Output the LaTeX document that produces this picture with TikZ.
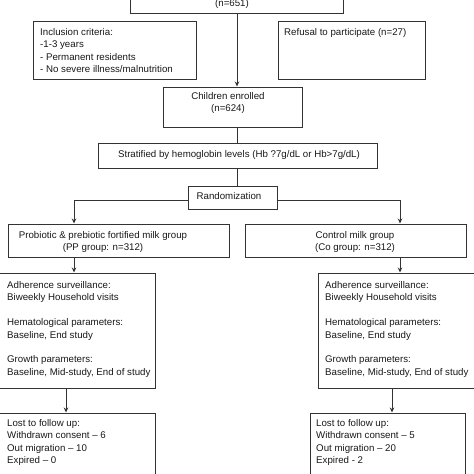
\documentclass[tikz,border=0pt]{standalone}
\usepackage{fontspec}
\setmainfont{Liberation Sans}
\usetikzlibrary{arrows.meta}
\begin{document}
\begin{tikzpicture}[x=1pt,y=-1pt,
  box/.style={draw=black!80, line width=1pt, inner sep=0pt},
  txt/.style={inner sep=0pt, font=\fontsize{9.7}{12.4}\selectfont, text=black!90},
  ltxt/.style={txt, align=left, anchor=north west},
  ctxt/.style={txt, align=center},
  conn/.style={draw=black!80, line width=1pt},
  arr/.style={conn, -{Stealth[length=5pt,width=4.5pt]}}
]
\useasboundingbox (0,0) rectangle (474,474);
\clip (0,0) rectangle (474,474);
\fill[white] (0,0) rectangle (474,474);
% boxes
\node[box, minimum width=213pt, minimum height=53pt] (top) at (236.5,-13.5) {};
\node[box, minimum width=163pt, minimum height=58pt] (incl) at (114.5,50) {};
\node[box, minimum width=147pt, minimum height=58pt] (ref) at (351.5,50) {};
\node[box, minimum width=139pt, minimum height=40pt] (enr) at (232.5,107) {};
\node[box, minimum width=279pt, minimum height=25pt] (strat) at (237.5,155.5) {};
\node[box, minimum width=89pt, minimum height=23pt] (rand) at (232.5,197.5) {};
\node[box, minimum width=221pt, minimum height=33pt] (pp) at (118.5,240.5) {};
\node[box, minimum width=221pt, minimum height=33pt] (co) at (355.5,240.5) {};
\node[box, minimum width=160pt, minimum height=115pt] (adhL) at (75,330.5) {};
\node[box, minimum width=162pt, minimum height=115pt] (adhR) at (399,330.5) {};
\node[box, minimum width=160pt, minimum height=67pt] (lostL) at (75,446.5) {};
\node[box, minimum width=155pt, minimum height=67pt] (lostR) at (387.5,446.5) {};
% columns
\coordinate (spine) at (237,0);
\coordinate (lcol) at (74,0);
\coordinate (lcolb) at (66,0);
\coordinate (rcol) at (400,0);
\coordinate (rcolb) at (392,0);
% connectors
\draw[arr] (top.south -| spine) -- (enr.north -| spine);
\draw[conn] (enr.south -| spine) -- (strat.north -| spine);
\draw[conn] (strat.south -| spine) -- (rand.north -| spine);
\draw[arr] ([yshift=-3pt]rand.west) -| (pp.north -| lcol);
\draw[arr] ([yshift=-3pt]rand.east) -| (co.north -| rcol);
\draw[arr] (pp.south -| lcol) -- (adhL.north -| lcol);
\draw[arr] (co.south -| rcol) -- (adhR.north -| rcol);
\draw[arr] (adhL.south -| lcolb) -- (lostL.north -| lcolb);
\draw[arr] (adhR.south -| rcolb) -- (lostR.north -| rcolb);
% texts
\node[ctxt] (ttop) at (232,4) {(n=651)};
\node[ltxt] (tincl) at (40,28.3) {Inclusion criteria:\\-1-3 years\\- Permanent residents\\- No severe illness/malnutrition};
\node[ltxt] (tref) at (284,28.3) {Refusal to participate (n=27)};
\node[ctxt] (tenr) at (228,103) {Children enrolled\\(n=624)};
\node[ctxt] (tstrat) at (239,155) {Stratified by hemoglobin levels (Hb ?7g/dL or Hb>7g/dL)};
\node[ctxt] (trand) at (229,196) {Randomization};
\node[ctxt] (tpp) at (103,242) {Probiotic \& prebiotic fortified milk group\\(PP group: n=312)};
\node[ctxt] (tco) at (355,242) {Control milk group\\(Co group: n=312)};
\node[ltxt] (tadhL) at (7,281.3) {Adherence surveillance:\\Biweekly Household visits\\[12.4pt]Hematological parameters:\\Baseline, End study\\[12.4pt]Growth parameters:\\Baseline, Mid-study, End of study};
\node[ltxt] (tadhR) at (325,281.3) {Adherence surveillance:\\Biweekly Household visits\\[12.4pt]Hematological parameters:\\Baseline, End study\\[12.4pt]Growth parameters:\\Baseline, Mid-study, End of study};
\node[ltxt] (tlostL) at (7,419.3) {Lost to follow up:\\Withdrawn consent -- 6\\Out migration -- 10\\Expired -- 0};
\node[ltxt] (tlostR) at (316,419.3) {Lost to follow up:\\Withdrawn consent -- 5\\Out migration -- 20\\Expired - 2};
\end{tikzpicture}
\end{document}
